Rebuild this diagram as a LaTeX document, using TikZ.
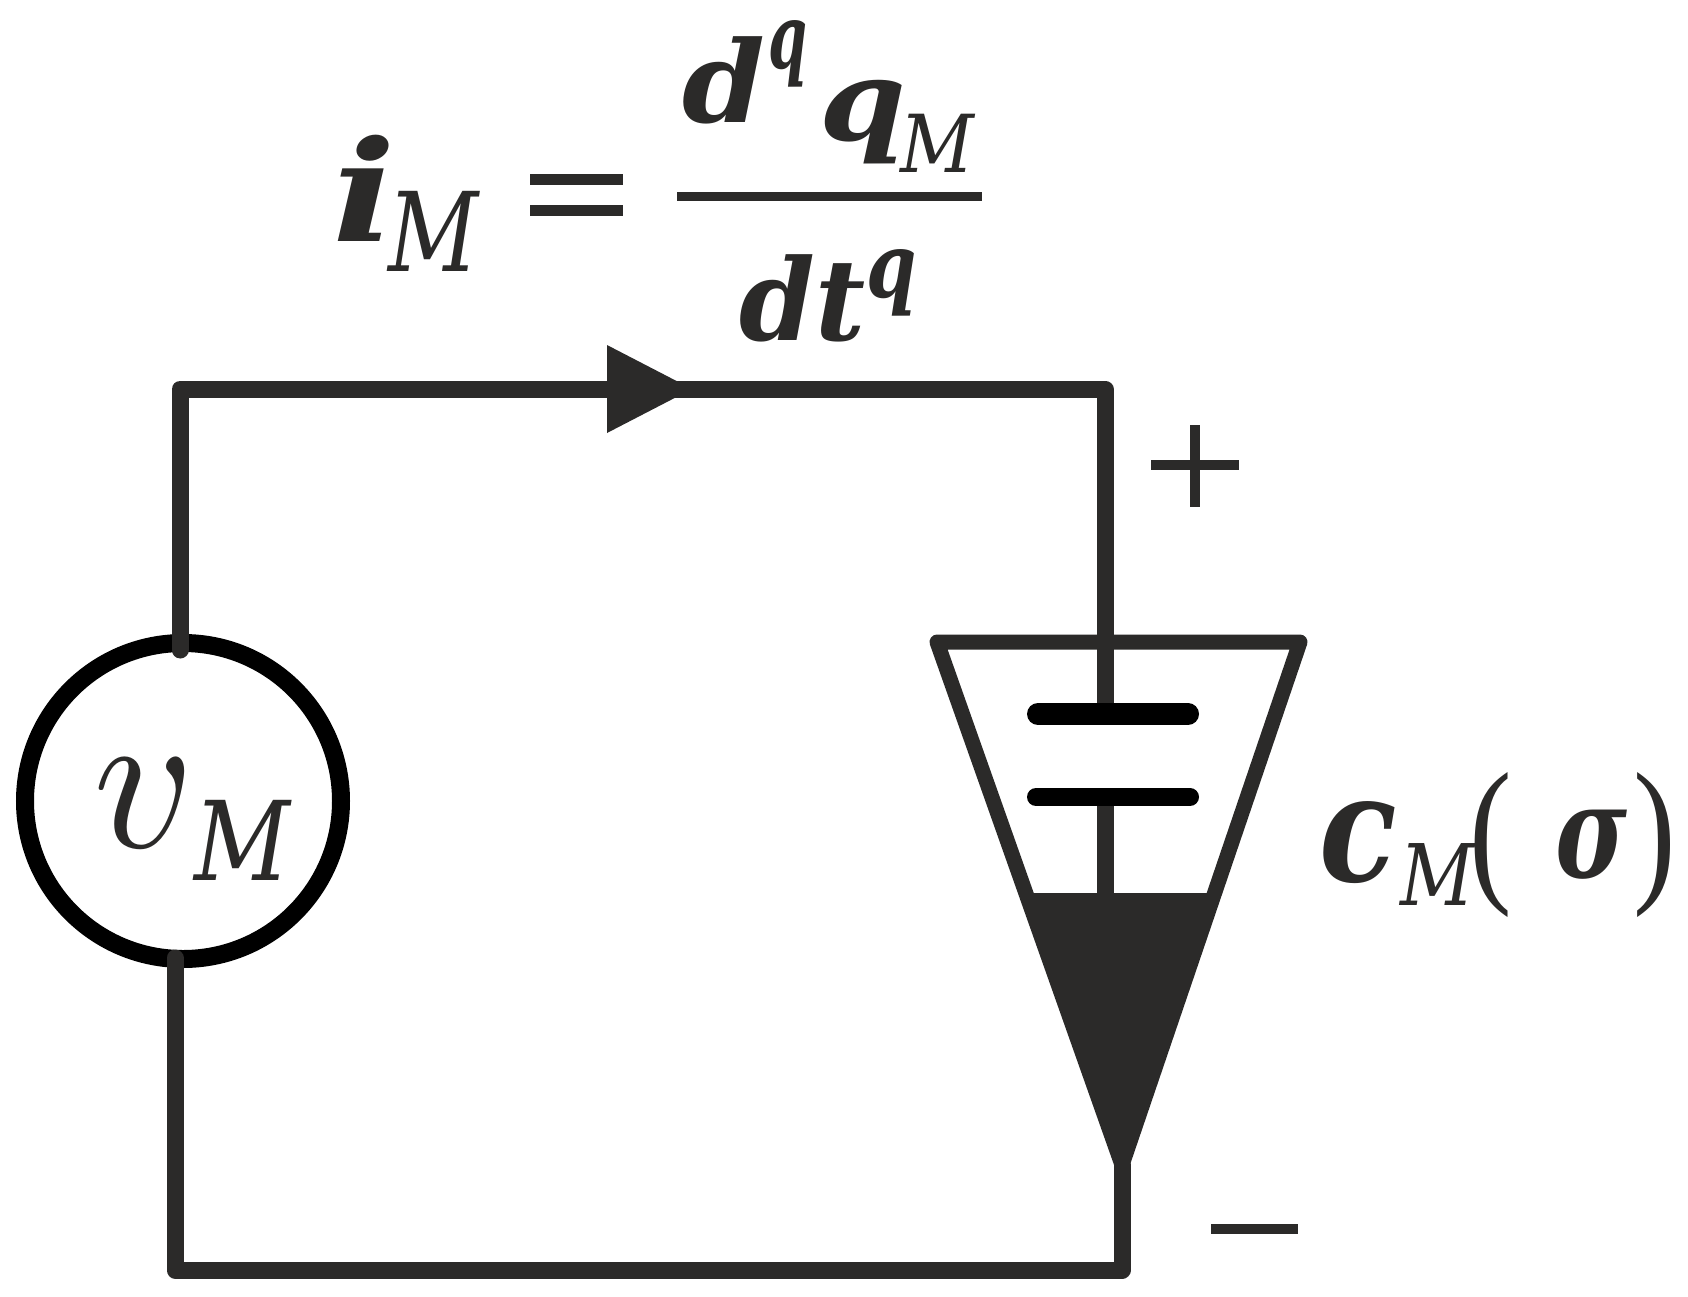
\documentclass[tikz,border=0pt]{standalone}
\usepackage{fontspec}
\setmainfont{DejaVu Serif}
\newfontfamily\parenfont{Liberation Serif}
\definecolor{ink}{HTML}{2B2A29}
\font\miA=cmmi10 at 205pt
\newcommand{\bis}[1]{\fontsize{#1}{#1}\selectfont\bfseries\itshape}
\newcommand{\its}[1]{\fontsize{#1}{#1}\selectfont\itshape}
\tikzset{
  wire/.style={draw=ink,line width=17pt,line cap=round,line join=round},
  plate/.style={draw=black,line cap=round},
  lab/.style={text=ink,inner sep=0pt},
  rule/.style={draw=ink,line width=10pt},
}
\begin{document}
\begin{tikzpicture}[x=1pt,y=-1pt]
\useasboundingbox (0,0) rectangle (1688,1296);
\fill[white] (0,0) rectangle (1688,1296);
\coordinate (srcTop) at (180,650);
\coordinate (tl) at (180,389);
\coordinate (tr) at (1105,389);
\coordinate (capIn) at (1105,705);
\coordinate (capOut) at (1105,800);
\coordinate (capFill) at (1105,897);
\coordinate (tip) at (1122,1165);
\coordinate (br) at (1122,1270);
\coordinate (bl) at (175,1270);
\coordinate (srcBot) at (175,958);
\node[circle,draw=black,line width=18pt,minimum size=316pt,inner sep=0pt] (src) at (183,801) {};
\draw[wire] (srcTop) -- (tl) -- (tr) -- (capIn);
\draw[wire] (capOut) -- (capFill);
\draw[wire] (tip) -- (br) -- (bl) -- (srcBot);
\fill[ink] (607,345) -- (692,389) -- (607,433) -- cycle;
\draw[draw=ink,line width=15pt,line join=round] (937,642) -- (1300,642) -- (1122,1165) -- cycle;
\fill[ink] (1028,893) -- (1216,893) -- (1122,1168) -- cycle;
\draw[plate,line width=22pt] (1038,714) -- (1188,714);
\draw[plate,line width=18pt] (1036,797) -- (1190,797);
\node[lab,xscale=1.2] (iM) at (335,188) {\bis{140} i};
\node[lab,xscale=.8] (iMs) at (420,231) {\its{110} M};
\draw[rule,line width=11pt] (530,179) -- (623,179) (530,210) -- (623,210);
\draw[rule,line width=9pt] (677,196) -- (982,196);
\node[lab,xscale=1.05] (d1) at (703,80) {\bis{113} d};
\node[lab,xscale=.62] (q1) at (778,54) {\bis{90} q};
\node[lab,xscale=1.1] (q2) at (841,122) {\bis{113} q};
\node[lab,xscale=.9] (M2) at (926,143) {\its{80} M};
\node[lab,xscale=.96] (dt) at (784,298) {\bis{113} dt};
\node[lab,xscale=.8] (q3) at (879,283) {\bis{90} q};
\node[lab,xscale=.95] (v) at (141,803) {\miA v};
\node[lab,xscale=.85] (vM) at (228,840) {\its{110} M};
\node[lab,xscale=.85] (c) at (1336,843) {\bis{150} c};
\node[lab,xscale=.85] (cM) at (1426,875) {\its{85} M};
\node[lab,xscale=.8] (sl) at (1491,845) {\parenfont\fontsize{160}{160}\selectfont (};
\node[lab,xscale=.75] (s) at (1574,845) {\bis{130} σ};
\node[lab,xscale=.8] (sr) at (1655,845) {\parenfont\fontsize{160}{160}\selectfont )};
\draw[rule] (1151,465) -- (1239,465) (1195,425) -- (1195,507);
\draw[rule] (1211,1229) -- (1298,1229);
\end{tikzpicture}
\end{document}
